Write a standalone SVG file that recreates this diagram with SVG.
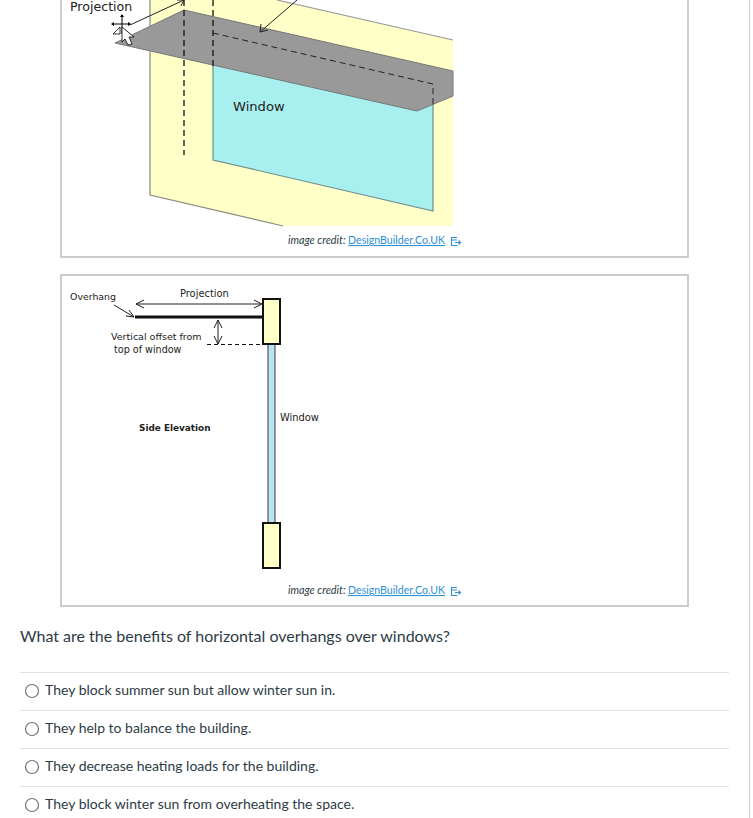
<svg xmlns="http://www.w3.org/2000/svg" width="753" height="818" viewBox="0 0 753 818">
<style>
.panel{fill:#fff;stroke:#c7cdd1;stroke-width:2}
.img{font-family:"DejaVu Sans",sans-serif;fill:#222}
.lato{font-family:Lato,"Noto Sans",sans-serif;fill:#2d3b45}
.q{font-size:14px}
.credit{font-size:10.8px;font-style:italic}
.link{font-size:10.6px;fill:#2d8fd6;text-decoration:underline;font-style:normal}
.thin{stroke:#222;stroke-width:1;fill:none}
.dash{stroke:#111;stroke-width:1.3;fill:none;stroke-dasharray:6 4}
.dash2{stroke:#222;stroke-width:1;fill:none;stroke-dasharray:6 4}
.sep{stroke:#dfe2e4;stroke-width:1}
.radio{fill:#fff;stroke:#6b7780;stroke-width:1.2}
.ext{fill:none;stroke:#2d8fd6;stroke-width:1.1}
</style>
<rect width="753" height="818" fill="#fff"/>
<rect x="749" y="0" width="1" height="818" fill="#c7cdd1"/>
<g id="panel-top">
<rect class="panel" x="61" y="-10" width="627" height="267"/>
<polygon points="150,0 277,0 453,40 453,226 283,226 150,195" fill="#ffffc8"/>
<polyline points="277,0 453,40" fill="none" stroke="#999" stroke-width="1.2"/>
<polyline points="150,0 150,195 283,226" fill="none" stroke="#8a8a80" stroke-width="1.2"/>
<polygon points="213,60 433,100 433,211 213,160" fill="#a8efef" stroke="#6f8f8f" stroke-width="1.2"/>
<polygon points="115,43 184,10 453,71 453,96 417,111" fill="#999" stroke="#777" stroke-width="1"/>
<path class="dash" d="M184,0V155"/>
<path class="dash" d="M213,0V70"/>
<path class="dash2" d="M213,33L433,84V105"/>
<path class="thin" d="M130,25L184,0M177,0L184,0L181,6"/>
<path class="thin" d="M297,0L260,32M261,24L260,32L268,30"/>
<text class="img" x="70" y="11" font-size="12.6">Projection</text>
<text class="img" x="233" y="111" font-size="13.100">Window</text>
<g id="cursor">
<path d="M122,16V34M113,24H130" stroke="#000" stroke-width="1"/>
<path d="M122,14l-2,3h4zM111,24l3,-2v4zM131,24l-3,-2v4z" fill="#000"/>
<path d="M122,27L134,37H129L132,44L128,45L125,39L122,42Z" fill="#fff" stroke="#000" stroke-width="0.8"/>
<path d="M113,34L120,27V34Z" fill="none" stroke="#000" stroke-width="0.8"/>
</g>
<text class="lato credit" x="288" y="244">image credit: <tspan class="link">DesignBuilder.Co.UK</tspan></text>
<path class="ext" d="M457,237.500H451.500V245.500H457.500M451.500,240H457M455,242.500H460M458.500,240.500L460.500,242.500L458.500,244.500"/>
</g>
<g id="panel-side">
<rect class="panel" x="61" y="275" width="627" height="331"/>
<rect x="268" y="344" width="7" height="180" fill="#b8e2f8" stroke="#555" stroke-width="1.2"/>
<rect x="263" y="299" width="17" height="45" fill="#ffffc8" stroke="#111" stroke-width="2"/>
<rect x="263" y="523" width="17" height="45" fill="#ffffc8" stroke="#111" stroke-width="2"/>
<path d="M135,317H262" stroke="#111" stroke-width="3"/>
<path class="thin" d="M136,304H262M144,300L136,304L144,308M254,300L262,304L254,308"/>
<path class="thin" d="M218,320V344M214,328L218,320L222,328M214,336L218,344L222,336"/>
<path class="thin" d="M114,305L134,317M126,316L134,317L129,310"/>
<path d="M207,344.500H262" stroke="#111" stroke-dasharray="4 3" fill="none"/>
<text class="img" x="70" y="300" font-size="9.400">Overhang</text>
<text class="img" x="180" y="297" font-size="9.900">Projection</text>
<text class="img" x="111" y="340" font-size="9.500">Vertical offset from</text>
<text class="img" x="114" y="353" font-size="9.600">top of window</text>
<text class="img" x="139" y="431" font-size="8.900" font-weight="bold">Side Elevation</text>
<text class="img" x="280" y="421" font-size="9.900">Window</text>
<text class="lato credit" x="288" y="594">image credit: <tspan class="link">DesignBuilder.Co.UK</tspan></text>
<path class="ext" d="M457,587.500H451.500V595.500H457.500M451.500,590H457M455,592.500H460M458.500,590.500L460.500,592.500L458.500,594.500"/>
</g>
<g id="question">
<text class="lato" x="20" y="642" font-size="16">What are the benefits of horizontal overhangs over windows?</text>
<path class="sep" d="M20,672.500H729M20,710.500H729M20,748.500H729M20,786.500H729"/>
<circle class="radio" cx="32" cy="691" r="6.500"/>
<circle class="radio" cx="32" cy="729" r="6.500"/>
<circle class="radio" cx="32" cy="767" r="6.500"/>
<circle class="radio" cx="32" cy="805" r="6.500"/>
<text class="lato q" x="45" y="695">They block summer sun but allow winter sun in.</text>
<text class="lato q" x="45" y="733">They help to balance the building.</text>
<text class="lato q" x="45" y="771">They decrease heating loads for the building.</text>
<text class="lato q" x="45" y="809">They block winter sun from overheating the space.</text>
</g>
</svg>
